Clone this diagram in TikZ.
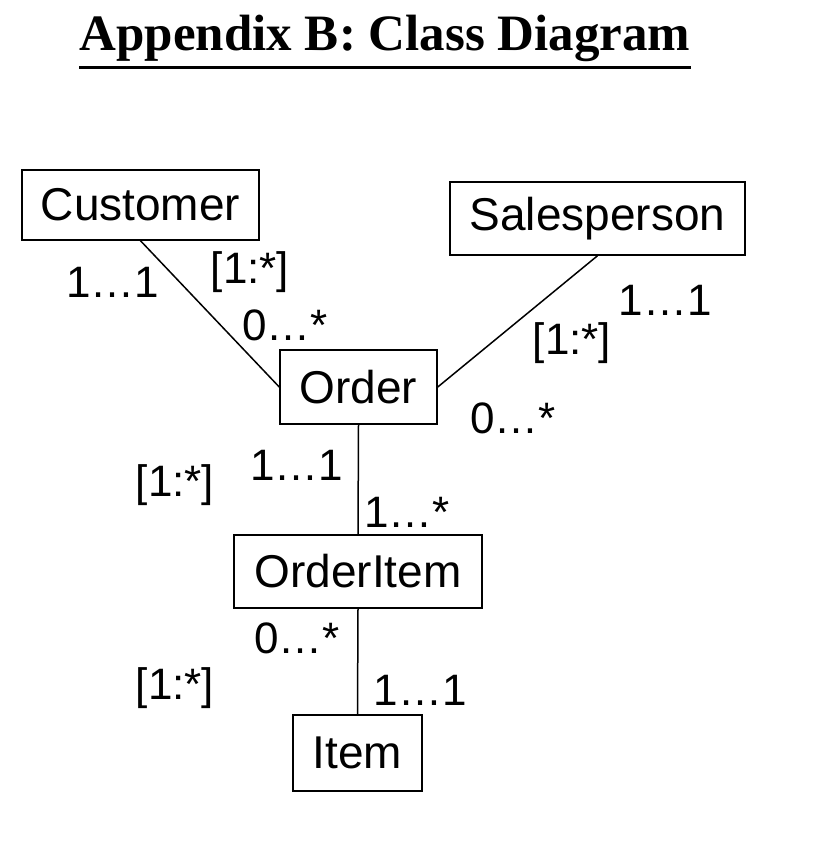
\documentclass[tikz,border=0pt]{standalone}
\usepackage{fontspec}
\setmainfont{Liberation Sans}
\newfontfamily\titlefont{Liberation Serif}
\begin{document}
\begin{tikzpicture}[x=1pt,y=-1pt,
  cls/.style={draw,line width=1.5pt,font=\fontsize{46}{52}\selectfont,inner sep=0pt},
  lbl/.style={font=\fontsize{44}{50}\selectfont,inner sep=0pt},
  conn/.style={line width=1.5pt}]
\useasboundingbox (0,0) rectangle (830,850);
\node[font=\titlefont\bfseries\fontsize{51}{56}\selectfont,inner sep=0pt] (title) at (385,38) {Appendix B: Class Diagram};
\draw[line width=2.5pt] ([yshift=-6pt]title.south west) -- ([yshift=-6pt]title.south east);
\node[cls,minimum width=237pt,minimum height=70pt] (cust) at (140.5,205) {Customer};
\node[cls,minimum width=295pt,minimum height=73pt] (sales) at (597.5,218.5) {Salesperson};
\node[cls,minimum width=157pt,minimum height=74pt] (order) at (358.5,387) {Order};
\node[cls,minimum width=248pt,minimum height=73pt] (oi) at (358,571.5) {OrderItem};
\node[cls,minimum width=129pt,minimum height=76pt] (item) at (357.5,753) {Item};
\draw[conn] (cust.south) -- (order.west);
\draw[conn] (sales.south) -- (order.east);
\draw[conn] (order.south) -- (oi.north);
\draw[conn] (oi.south) -- (item.north);
\node[lbl] (l1) at (113,282) {1…1};
\node[lbl] (l2) at (250,272) {[1:*]};
\node[lbl] (l3) at (285,325) {0…*};
\node[lbl] (l4) at (665,300) {1…1};
\node[lbl] (l5) at (572,343) {[1:*]};
\node[lbl] (l6) at (513,418) {0…*};
\node[lbl] (l7) at (175,485) {[1:*]};
\node[lbl] (l8) at (297,465) {1…1};
\node[lbl] (l9) at (407,512) {1…*};
\node[lbl] (l10) at (297,638) {0…*};
\node[lbl] (l11) at (175,688) {[1:*]};
\node[lbl] (l12) at (420,690) {1…1};
\end{tikzpicture}
\end{document}
